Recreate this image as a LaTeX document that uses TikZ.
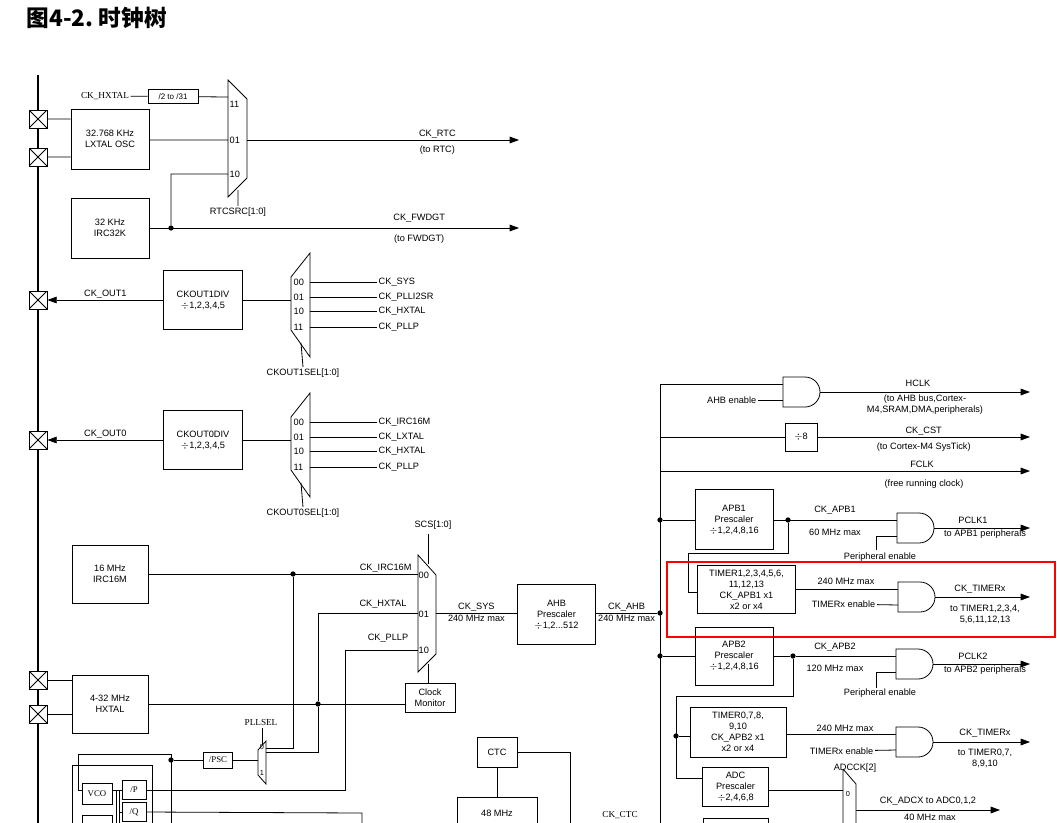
\documentclass[tikz,border=0pt]{standalone}
\usepackage{fontspec}
\setmainfont{Liberation Sans}
\newfontfamily\serifft{Liberation Serif}
\newfontfamily\cjk{Noto Sans CJK SC}
\usetikzlibrary{arrows.meta, positioning}

% gate: name, left x, top y (height 30)
\newcommand{\andgate}[3]{%
  \draw (#2,#3) -- ++(22,0) arc[start angle=-90, end angle=90, radius=15] -- ++(-22,0) -- cycle;
  \coordinate (#1-a) at (#2,#3+7);
  \coordinate (#1-b) at (#2,#3+23);
  \coordinate (#1-o) at (#2+37,#3+15);
}

\begin{document}
\begin{tikzpicture}[
    x=0.75pt, y=-0.75pt,
    line width=0.6pt,
    font=\fontsize{6.9}{8.2}\selectfont,
    box/.style = {rectangle, draw, align=center, inner sep=0pt},
    pad/.style = {rectangle, draw, fill=white, minimum size=13.5pt, inner sep=0pt,
      path picture={\draw (path picture bounding box.north west) -- (path picture bounding box.south east)
        (path picture bounding box.south west) -- (path picture bounding box.north east);}},
    pil/.style = {-{Triangle[length=7pt, width=5pt]}},
    dot/.style = {circle, fill, inner sep=1.4pt},
    lbl/.style = {inner sep=1pt},
    srf/.style = {font=\serifft\fontsize{6.9}{8}\selectfont, inner sep=1pt}
    ]
  \useasboundingbox (0,0) rectangle (1057,822);

  \node[anchor=west, font=\cjk\bfseries\fontsize{17}{20}\selectfont] (title) at (22,18) {图4-2.\ 时钟树};

  % main bus with pads
  \draw[line width=2.2pt] (38,75) -- (38,830);
  \foreach \n/\y in {p1/119, p2/157, p3/300, p4/440, p5/680, p6/714}
    \node[pad] (\n) at (38,\y) {};

  % ---------- RTC / FWDGT ----------
  \node[box, minimum width=58.5pt, minimum height=45pt] (lxtal) at (110,139) {32.768 KHz\\LXTAL OSC};
  \node[box, minimum width=58.5pt, minimum height=45pt] (irc32) at (110,228) {32 KHz\\IRC32K};
  \node[srf] (hxrtc) at (105,96) {CK\_HXTAL};
  \node[box, minimum width=37.5pt, minimum height=10pt, font=\fontsize{6}{7}\selectfont] (hxdiv) at (173,96.5) {/2 to /31};
  \draw (228,80) -- (247,99) -- (247,178) -- (228,197) -- cycle;
  \coordinate (rtcA) at (228,97); \coordinate (rtcB) at (228,140);
  \coordinate (rtcC) at (228,174); \coordinate (rtcO) at (247,140);
  \node[lbl, anchor=west] at (228,104) {11};
  \node[lbl, anchor=west] at (228,140) {01};
  \node[lbl, anchor=west] at (228,174) {10};
  \coordinate (rtcS) at (238,190);
  \node[lbl] (rtcsrc) at (238,212) {RTCSRC[1:0]};
  \coordinate (ckrtc) at (519,140);
  \coordinate (ckfwdgt) at (519,228);
  \node[dot] (d32) at (171,228) {};

  \draw (p1) -- (p1 -| lxtal.west) (p2) -- (p2 -| lxtal.west)
    (hxrtc) -- (hxdiv) (hxdiv) -- (rtcA)
    (lxtal.east |- rtcB) -- (rtcB)
    (rtcS) -- (rtcsrc.north)
    (d32) |- (rtcC);
  \draw[pil] (rtcO) -- node[above, lbl, pos=0.7] {CK\_RTC} node[below=3pt, lbl, pos=0.7] {(to RTC)} (ckrtc);
  \draw[pil] (irc32.east) -- node[above=3pt, lbl, pos=0.73] {CK\_FWDGT} node[below=4pt, lbl, pos=0.73] {(to FWDGT)} (ckfwdgt);

  % ---------- CK_OUT1 / CK_OUT0 ----------
  \foreach \k/\o in {1/0, 0/140} {
    \node[box, minimum width=59pt, minimum height=44.5pt] (ckdiv\k) at (203,300+\o) {CKOUT\k DIV\\$\div$1,2,3,4,5};
    \draw (291,277+\o) -- (310,253+\o) -- (310,357+\o) -- (291,330+\o) -- cycle;
    \foreach \s/\y/\c in {00/282/a, 01/297/b, 10/311/c, 11/327/d} {
      \node[lbl, anchor=west] at (292,\y+\o) {\s};
      \coordinate (m\k\c) at (310,\y+\o);
      \coordinate (e\k\c) at (377,\y+\o);
    }
    \node[lbl] (sel\k) at (303,373+\o) {CKOUT\k SEL[1:0]};
    \draw (301,343+\o) -- (sel\k.north);
    \draw (ckdiv\k.east) -- (291,300+\o);
  }
  \foreach \c/\n in {a/CK\_SYS, b/CK\_PLLI2SR, c/CK\_HXTAL, d/CK\_PLLP}
    \draw (m1\c) -- (e1\c) node[right, lbl] {\n};
  \foreach \c/\n in {a/CK\_IRC16M, b/CK\_LXTAL, c/CK\_HXTAL, d/CK\_PLLP}
    \draw (m0\c) -- (e0\c) node[right, lbl] {\n};
  \draw[pil] (ckdiv1.west) -- node[above, lbl] {CK\_OUT1} (p3.east);
  \draw[pil] (ckdiv0.west) -- node[above, lbl] {CK\_OUT0} (p4.east);

  % ---------- system clock ----------
  \node[box, minimum width=57pt, minimum height=43.5pt] (irc16) at (110,574) {16 MHz\\IRC16M};
  \node[box, minimum width=57pt, minimum height=43.5pt] (hxtal) at (110,704) {4-32 MHz\\HXTAL};
  \draw (418,555) -- (436,575) -- (436,654) -- (418,672) -- cycle;
  \node[lbl, anchor=west] at (417,575) {00};
  \node[lbl, anchor=west] at (417,614) {01};
  \node[lbl, anchor=west] at (417,650) {10};
  \coordinate (scsA) at (418,574); \coordinate (scsB) at (418,613);
  \coordinate (scsC) at (418,650); \coordinate (scsO) at (436,613);
  \node[lbl] (scs) at (433,525) {SCS[1:0]};
  \draw (428,534) -- (428,564);
  \node[box, minimum width=37.5pt, minimum height=22pt] (clkmon) at (430,698) {Clock\\Monitor};
  \draw (428,664) -- (428,683);
  \node[dot] (d16) at (293,574) {};
  \node[dot] (dhx) at (318,704) {};
  \draw (p5) -- (p5 -| hxtal.west) (p6) -- (p6 -| hxtal.west);
  \draw (irc16.east) -- node[above, lbl, pos=0.88] {CK\_IRC16M} (scsA);
  \draw (hxtal.east) -- (clkmon.west |- hxtal.east);
  \node[lbl] at (383,604) {CK\_HXTAL};
  \node[lbl] at (388,638) {CK\_PLLP};

  \node[box, minimum width=59pt, minimum height=44.5pt] (ahb) at (556.5,614.5) {AHB\\Prescaler\\$\div$1,2...512};
  \draw (scsO) -- node[above, lbl] {CK\_SYS} node[below, lbl] {240 MHz max} (ahb.west |- scsO);
  \node[dot] (dahb) at (660,613) {};
  \draw (ahb.east |- dahb) -- node[above, lbl] {CK\_AHB} node[below, lbl] {240 MHz max} (dahb);

  % ---------- PLL ----------
  \draw (258,750) -- (266,741) -- (266,784) -- (258,775) -- cycle;
  \node[lbl, font=\fontsize{5.5}{6}\selectfont] at (262,747) {0};
  \node[lbl, font=\fontsize{5.5}{6}\selectfont] at (262,773) {1};
  \node[srf] (pllsel) at (261,722) {PLLSEL};
  \draw (262,728) -- (262,745);
  \node[box, minimum width=22pt, minimum height=12pt, font=\serifft\fontsize{6.6}{8}\selectfont] (psc) at (218,760) {/PSC};
  \node[dot] (dpsc) at (171,760) {};
  \draw (psc.east) -- (258,760) (psc.west) -- (dpsc);
  \draw (266,748) -| (d16) (266,752) -- (318,752) -- (dhx) -- (318,613) -- (scsB);
  \draw (dpsc) -- (171,754) -- (78,754) -- (78,790);
  \draw (171,754) -- (171,830);
  \draw (72,765) -- (152,765) -- (152,830) (72,765) -- (72,830);
  \node[box, minimum width=22.5pt, minimum height=16pt, font=\serifft\fontsize{6.6}{8}\selectfont] (vco) at (97,794) {VCO};
  \node[box, minimum width=18pt, minimum height=14pt, font=\serifft\fontsize{6.6}{8}\selectfont] (divp) at (134,790) {/P};
  \node[box, minimum width=18pt, minimum height=14pt, font=\serifft\fontsize{6.6}{8}\selectfont] (divq) at (134,812) {/Q};
  \draw (82,815) rectangle (112,835);
  \draw (78,790) -- (82,790);
  \draw (112,790) -- (divp.west) (116,790) -- (116,830) (119,790) -- (119,830)
    (119,812) -- (divq.west);
  \draw (divp.east) -- (345,790) -- (345,650) -- (scsC);
  \draw (divq.east) -- (362,813) -- (362,830);

  % ---------- CTC ----------
  \node[box, minimum width=30pt, minimum height=22.5pt] (ctc) at (497,752) {CTC};
  \draw (457,797) rectangle (537,835);
  \coordinate (m48) at (497,797);
  \node[lbl] at (497,813) {48 MHz};
  \draw (ctc.south) -- (m48);
  \draw (ctc.east) -- (570,752) -- (570,830);
  \node[srf] at (620,815) {CK\_CTC};

  % ---------- AHB bus ----------
  \draw (660,384) -- (660,830);
  \andgate{gh}{783}{377}
  \draw (660,384) -- (gh-a);
  \node[lbl, anchor=east] (ahben) at (758,400) {AHB enable};
  \draw (ahben) -- (gh-b);
  \coordinate (hclk) at (1030,392);
  \draw[pil] (gh-o) -- (hclk);
  \node[lbl] at (918,383) {HCLK};
  \node[lbl, align=center] at (925,405) {(to AHB bus,Cortex-\\M4,SRAM,DMA,peripherals)};
  \node[box, minimum width=24pt, minimum height=21pt] (div8) at (801,437) {$\div$8};
  \draw (660,437) -- (div8.west);
  \draw[pil] (div8.east) -- node[above, lbl] {CK\_CST} node[below=3pt, lbl] {(to Cortex-M4 SysTick)} (1030,437);
  \coordinate (fclk) at (1030,471);
  \draw[pil] (660,471) -- (fclk);
  \node[lbl] at (922,464) {FCLK};
  \node[lbl] at (924,484) {(free running clock)};

  % APB1
  \node[dot] (dapb1) at (660,520) {};
  \node[box, minimum width=58.5pt, minimum height=44.5pt] (apb1) at (734,519.5) {APB1\\Prescaler\\$\div$1,2,4,8,16};
  \draw (dapb1) -- (apb1.west |- dapb1);
  \andgate{g1}{897}{513}
  \node[dot] (dt1) at (788,520) {};
  \draw (apb1.east |- dt1) -- (g1-a);
  \node[lbl] at (835,510) {CK\_APB1};
  \node[lbl] at (835,532) {60 MHz max};
  \draw (876,550) |- (g1-b);
  \node[lbl] at (880,557) {Peripheral enable};
  \draw[pil] (g1-o) -- (1030,528);
  \node[lbl] at (973,520) {PCLK1};
  \node[lbl] at (985,534) {to APB1 peripherals};

  \node[box, minimum width=74pt, minimum height=36.5pt] (tim1) at (746.5,589.5) {TIMER1,2,3,4,5,6,\\11,12,13\\CK\_APB1 x1\\x2 or x4};
  \draw (dt1) -- (788,553) -- (688,553) -- (688,592) -- (697,592);
  \andgate{g2}{898}{582}
  \draw (tim1.east |- g2-a) -- (g2-a);
  \node[lbl] at (846,581) {240 MHz max};
  \node[lbl, anchor=east] (ten1) at (877,604) {TIMERx enable};
  \draw (ten1) -- (g2-b);
  \draw[pil] (g2-o) -- (1030,597);
  \node[lbl] at (980,589) {CK\_TIMERx};
  \node[lbl, align=center] at (985,614) {to TIMER1,2,3,4,\\5,6,11,12,13};
  \draw[red, line width=1.8pt] (667,562) rectangle (1055,637);

  % APB2
  \node[dot] (dapb2) at (660,656) {};
  \node[box, minimum width=58.5pt, minimum height=43.5pt] (apb2) at (734,656) {APB2\\Prescaler\\$\div$1,2,4,8,16};
  \draw (dapb2) -- (apb2.west);
  \andgate{g3}{896}{649}
  \node[dot] (dt2) at (793,656) {};
  \draw (apb2.east) -- (dt2) -- (g3-a);
  \node[lbl] at (835,647) {CK\_APB2};
  \node[lbl] at (835,668) {120 MHz max};
  \draw (876,688) |- (g3-b);
  \node[lbl] at (880,693) {Peripheral enable};
  \draw[pil] (g3-o) -- (1030,664);
  \node[lbl] at (973,656) {PCLK2};
  \node[lbl] at (985,670) {to APB2 peripherals};

  \node[box, minimum width=72pt, minimum height=37.5pt] (tim0) at (738,732) {TIMER0,7,8,\\9,10\\CK\_APB2 x1\\x2 or x4};
  \node[dot] (dt0) at (676,736) {};
  \draw (dt2) -- (793,696) -- (676,696) -- (676,778) -- (703,778);
  \draw (dt0) -- (tim0.west |- dt0);
  \andgate{g4}{896}{727}
  \draw (tim0.east |- g4-a) -- (g4-a);
  \node[lbl] at (845,728) {240 MHz max};
  \node[lbl, anchor=east] (ten0) at (875,751) {TIMERx enable};
  \draw (ten0) -- (g4-b);
  \draw[pil] (g4-o) -- (1030,742);
  \node[lbl] at (985,733) {CK\_TIMERx};
  \node[lbl, align=center] at (985,758) {to TIMER0,7,\\8,9,10};

  % ADC
  \node[box, minimum width=49pt, minimum height=29pt] (adc) at (735.5,787) {ADC\\Prescaler\\$\div$2,4,6,8};
  \draw (703,818) rectangle (768,840);
  \draw (843,769) -- (856,784) -- (856,830) (843,769) -- (843,830);
  \node[lbl, font=\fontsize{5.5}{6}\selectfont] at (848,794) {0};
  \node[lbl] (adcck) at (855,768) {ADCCK[2]};
  \draw (768,790) -- (843,790);
  \draw[pil] (856,810) -- node[above=2pt, lbl] {CK\_ADCX to ADC0,1,2} (1000,810);
  \node[lbl] at (930,817) {40 MHz max};
\end{tikzpicture}
\end{document}
